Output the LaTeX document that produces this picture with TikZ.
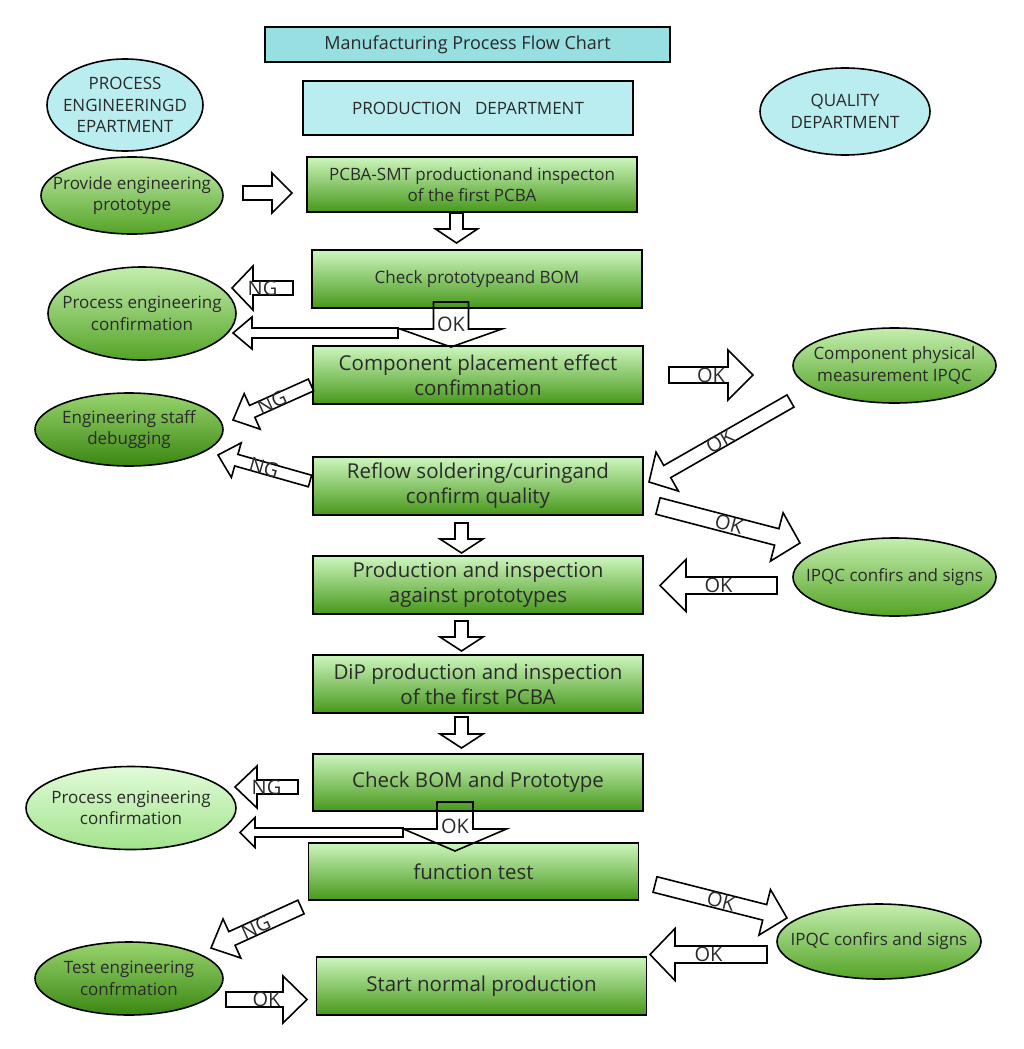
\documentclass[tikz,border=0pt]{standalone}
\usepackage{fontspec}
\setmainfont{Open Sans}
\usepackage{xcolor}
\definecolor{Cyan}{HTML}{97DFE1}
\definecolor{CyanLight}{HTML}{BAEDEF}
\definecolor{GreenTop}{HTML}{CDF6BE}
\definecolor{GreenBot}{HTML}{47981B}
\definecolor{OvalTop}{HTML}{C4EEAE}
\definecolor{OvalBot}{HTML}{54A326}
\definecolor{DarkTop}{HTML}{98D36E}
\definecolor{DarkBot}{HTML}{3A8712}
\definecolor{PaleTop}{HTML}{E0FBD8}
\definecolor{PaleBot}{HTML}{A2E38C}
\definecolor{Ink}{HTML}{2A2A2A}
\usetikzlibrary{shapes.geometric, calc}
\tikzset{
  box/.style={
    rectangle, draw=black, line width=1.6pt,
    align=center, text=Ink, inner sep=2pt
  },
  stage/.style={
    box, top color=GreenTop, bottom color=GreenBot,
    minimum width=330pt, minimum height=58pt,
    font=\fontsize{20.5}{25}\selectfont
  },
  smalltext/.style={font=\fontsize{17}{21}\selectfont},
  oval/.style={
    ellipse, draw=black, line width=1.6pt,
    inner sep=-26pt, align=center, text=Ink,
    font=\fontsize{17}{21.5}\selectfont
  },
  fatarr/.style={draw=black, line width=1.6pt, line join=miter},
  tag/.style={inner sep=0pt, text=Ink, font=\fontsize{20}{20}\selectfont},
}
% hollow block arrow: start, end, shaft half width, head half width, head length, label
\newcommand{\fatarrow}[6]{%
  \path let \p1=(#1), \p2=(#2) in \pgfextra{%
    \pgfmathsetmacro\fa{atan2(\y2-\y1,\x2-\x1)}%
    \pgfmathsetmacro\fl{veclen(\x2-\x1,\y2-\y1)}%
    \xdef\fatang{\fa}\xdef\fatlen{\fl}\xdef\fatx{\x1}\xdef\faty{\y1}};
  \pgfmathsetmacro\fattext{\fatang>90 ? \fatang-180 : (\fatang<-90 ? \fatang+180 : \fatang)}%
  \pgfmathsetmacro\fattext{abs(\fattext)>80 ? 0 : \fattext}%
  \begin{scope}[shift={(\fatx,\faty)}, rotate=\fatang]
    \draw[fatarr] (0,#3) -- ({\fatlen-#5},#3) -- ({\fatlen-#5},#4) -- (\fatlen,0)
      -- ({\fatlen-#5},-#4) -- ({\fatlen-#5},-#3) -- (0,-#3) -- cycle;
    \node[tag, rotate=\fattext] at ({\fatlen/2},0) {#6};
  \end{scope}
}

\begin{document}
\begin{tikzpicture}[x=1pt, y=-1pt]
\useasboundingbox (0,0) rectangle (1024,1049);

% Headings
\node[box, fill=Cyan, minimum width=405pt, minimum height=35pt, font=\fontsize{18}{22}\selectfont] at (467.5,44.5) (title) {Manufacturing Process Flow Chart};
\node[box, fill=CyanLight, minimum width=330pt, minimum height=54pt, smalltext] at (468,108) (prod) {PRODUCTION\ \ \ DEPARTMENT};
\node[oval, fill=CyanLight, minimum width=156pt, minimum height=92pt] at (125,105) (pedept) {PROCESS\\ENGINEERINGD\\EPARTMENT};
\node[oval, fill=CyanLight, minimum width=170pt, minimum height=87pt] at (845,111.5) (qadept) {QUALITY\\DEPARTMENT};

% Production stages (centre column)
\node[stage, smalltext, minimum height=55pt] at (472,184.5) (pcba) {PCBA-SMT productionand inspecton\\of the first PCBA};
\node[stage, smalltext] at (477,279) (chkproto) {Check prototypeand BOM};
\node[stage] at (478,375) (place) {Component placement effect\\confimnation};
\node[stage] at (478,486) (reflow) {Reflow soldering/curingand\\confirm quality};
\node[stage] at (478,585) (inspect) {Production and inspection\\against prototypes};
\node[stage] at (478,684) (dip) {DiP production and inspection\\of the first PCBA};
\node[stage, minimum height=57pt] at (478,782.5) (chkbom) {Check BOM and Prototype};
\node[stage, minimum height=57pt] at (473.5,871.5) (ftest) {function test};
\node[stage] at (481.5,986) (start) {Start normal production};

% Process engineering side (left)
\node[oval, top color=OvalTop, bottom color=OvalBot, minimum width=182pt, minimum height=77pt] at (132,195.5) (provide) {Provide engineering\\prototype};
\node[oval, top color=OvalTop, bottom color=OvalBot, minimum width=188pt, minimum height=93pt] at (142,313.5) (peconf) {Process engineering\\confirmation};
\node[oval, top color=DarkTop, bottom color=DarkBot, minimum width=188pt, minimum height=73pt] at (129,429.5) (staff) {Engineering staff\\debugging};
\node[oval, top color=PaleTop, bottom color=PaleBot, minimum width=210pt, minimum height=83pt] at (131,808) (peconfb) {Process engineering\\confirmation};
\node[oval, top color=DarkTop, bottom color=DarkBot, minimum width=188pt, minimum height=73pt] at (129,978.5) (testeng) {Test engineering\\confrmation};

% Quality side (right)
\node[oval, top color=OvalTop, bottom color=OvalBot, minimum width=203pt, minimum height=75pt] at (894.5,365.5) (measure) {Component physical\\measurement IPQC};
\node[oval, top color=OvalTop, bottom color=OvalBot, minimum width=203pt, minimum height=78pt] at (894.5,577) (ipqc) {IPQC confirs and signs};
\node[oval, top color=OvalTop, bottom color=OvalBot, minimum width=204pt, minimum height=75pt] at (879,941.5) (ipqcb) {IPQC confirs and signs};

% Block arrows
\fatarrow{243,193}{292,193}{7}{20}{20}{}
\fatarrow{456.5,213}{456.5,243}{6.5}{21}{14}{}
\fatarrow{293,288}{232,288}{7}{22}{21}{NG}
\fatarrow{398,333}{233,333}{5}{16}{19}{}
\fatarrow{451,302}{451,347}{17.5}{51}{18}{OK}
\fatarrow{669,375}{753,375}{8}{25}{25}{OK}
\fatarrow{311,385}{233,420}{6.5}{19.5}{21}{NG}
\fatarrow{790.5,401}{649,482}{7}{22.5}{21}{OK}
\fatarrow{310,481}{218,455}{6}{18}{19}{NG}
\fatarrow{658,506}{800,543}{8.5}{25}{24}{OK}
\fatarrow{777,585.5}{660,585.5}{8.5}{26}{26}{OK}
\fatarrow{461.5,523}{461.5,553}{6.5}{21.5}{14}{}
\fatarrow{461.5,621}{461.5,651}{6.5}{21.5}{14}{}
\fatarrow{461.5,717}{461.5,748}{6.5}{21.5}{14}{}
\fatarrow{298,787}{235,787}{7}{21}{22}{NG}
\fatarrow{403,832.5}{240,832.5}{4.5}{15}{15}{}
\fatarrow{455,802}{455,851}{18}{51.5}{22}{OK}
\fatarrow{655,884.5}{787,918}{8}{23.5}{23}{OK}
\fatarrow{301,907}{211,948}{7.5}{21.5}{23}{NG}
\fatarrow{767,954.5}{650,954.5}{8.5}{26}{25}{OK}
\fatarrow{226,999.5}{307,999.5}{7.5}{23.5}{24}{OK}

\end{tikzpicture}
\end{document}
